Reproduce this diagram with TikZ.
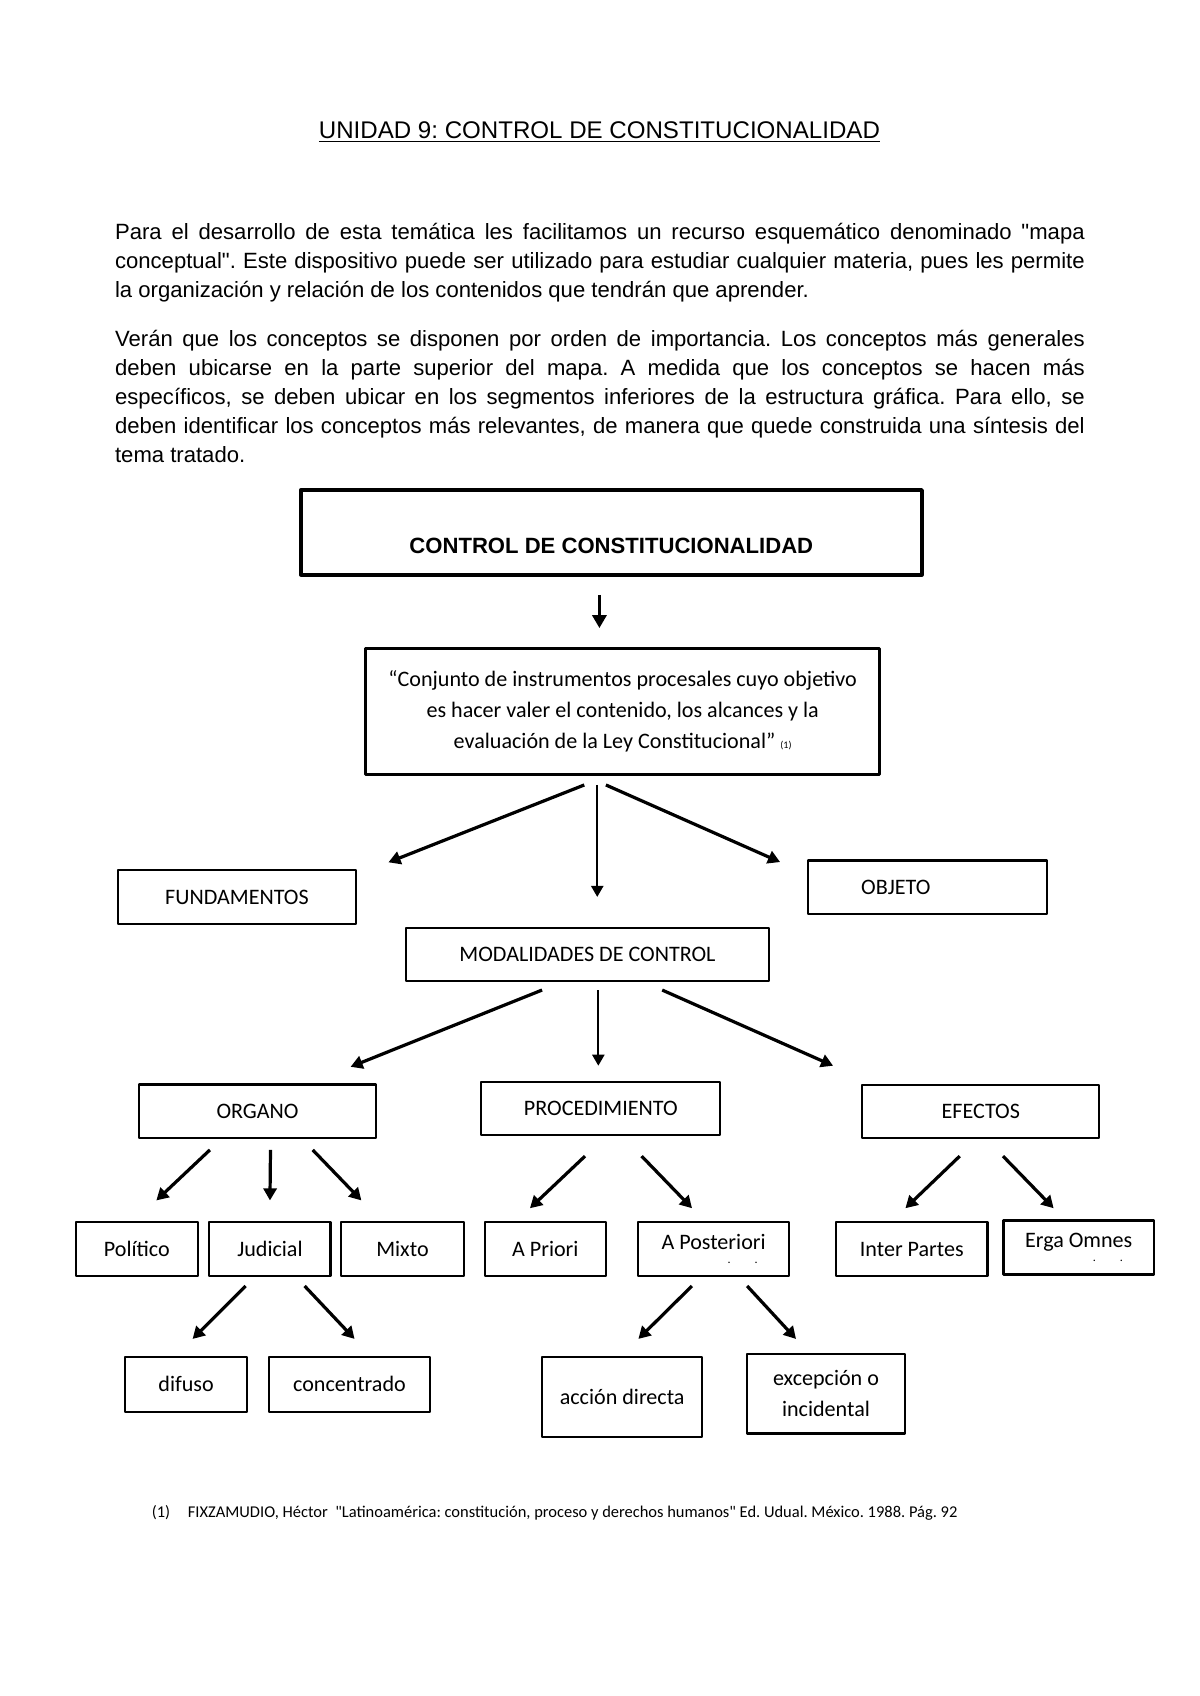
\documentclass[tikz,border=0pt]{standalone}
\usepackage{fontspec}
\setmainfont{Liberation Sans}
\newfontfamily\arial{Liberation Sans}
\newfontfamily\carlito{Carlito}
\usetikzlibrary{arrows.meta, calc, positioning}
\newcommand{\pxu}{0.01894cm}
\hyphenpenalty=10000
\exhyphenpenalty=10000
\frenchspacing
\tikzset{
	concept/.style={draw, line width=1.1pt, inner sep=0pt, align=center, font=\carlito\fontsize{11}{15.6}\selectfont},
	tam/.style 2 args={minimum width=#1*\pxu, minimum height=#2*\pxu},
	flecha/.style={line width=1.6pt, -{Triangle[length=6pt,width=6.5pt]}},
	flechafina/.style={line width=1.1pt, -{Triangle[length=5.5pt,width=6pt]}},
	parrafo/.style={anchor=base west, inner sep=0pt, text width=16.97cm, align=justify, font=\arial\fontsize{11}{14.5}\selectfont},
}

\begin{document}
\begin{tikzpicture}[x=\pxu, y=-\pxu, line join=round]
	\useasboundingbox (0,0) rectangle (1109,1567.5);

	% encabezado
	\node[anchor=base, inner sep=0pt, font=\arial\fontsize{12}{14}\selectfont] (titulo) at (554,128)
		{\underline{UNIDAD 9: CONTROL DE CONSTITUCIONALIDAD}};
	\node[parrafo] (parrafouno) at (106,221)
		{Para el desarrollo de esta temática les facilitamos un recurso esquemático denominado "mapa\linebreak
		conceptual". Este dispositivo puede ser utilizado para estudiar cualquier materia, pues les permite\linebreak
		la organización y relación de los contenidos que tendrán que aprender.};
	\node[parrafo] (parrafodos) at (106,320)
		{Verán que los conceptos se disponen por orden de importancia. Los conceptos más generales\linebreak
		deben ubicarse en la parte superior del mapa. A medida que los conceptos se hacen más\linebreak
		específicos, se deben ubicar en los segmentos inferiores de la estructura gráfica. Para ello, se\linebreak
		deben identificar los conceptos más relevantes, de manera que quede construida una síntesis del\linebreak
		tema tratado.};

	% mapa conceptual
	\node[draw, line width=2pt, tam={574}{78}, font=\arial\bfseries\fontsize{11}{13}\selectfont,
		text height=0.758cm, text depth=0pt] (control) at (565,492) {CONTROL DE CONSTITUCIONALIDAD};
	\node[concept, line width=1.6pt, tam={475}{117}] (concepto) at (575.5,657.5)
		{“Conjunto de instrumentos procesales cuyo objetivo\\
		es hacer valer el contenido, los alcances y la\\
		evaluación de la Ley Constitucional” {\fontsize{5}{5}\selectfont(1)}};

	\node[concept, tam={220}{50}] (fundamentos) at (219,829) {FUNDAMENTOS};
	\node[concept, tam={221}{49.5}] (objeto) at (857,820) {OBJETO\hspace*{1.1cm}};
	\node[concept, tam={336}{49}] (modalidades) at (543,882) {MODALIDADES DE CONTROL};

	\node[concept, tam={219.5}{49.5}] (organo) at (238,1027) {ORGANO};
	\node[concept, tam={221}{49.5}] (procedimiento) at (555.3,1024.5) {PROCEDIMIENTO};
	\node[concept, tam={219}{49}] (efectos) at (906.5,1027.5) {EFECTOS};

	\node[concept, tam={113}{50}] (politico) at (126.5,1154.5) {Político};
	\node[concept, tam={112}{50}] (judicial) at (249.5,1154.5) {Judicial};
	\node[concept, tam={113}{50}] (mixto) at (372,1154.5) {Mixto};
	\node[concept, tam={112}{50}] (apriori) at (504,1154.5) {A Priori};
	\node[concept, tam={139}{50}] (aposteriori) at (659.5,1154.5)
		{A Posteriori\\[-8.6pt]{\fontsize{6}{6}\selectfont\hspace*{1.02cm}.\hspace{0.42cm}.}};
	\node[concept, tam={140}{50}] (interpartes) at (842.7,1154.5) {Inter Partes};
	\node[concept, tam={139}{50}] (ergaomnes) at (997,1153)
		{Erga Omnes\\[-8.6pt]{\fontsize{6}{6}\selectfont\hspace*{1.02cm}.\hspace{0.42cm}.}};

	\node[concept, tam={113}{51}] (difuso) at (172,1279.5) {difuso};
	\node[concept, tam={149}{51}] (concentrado) at (323,1279.5) {concentrado};
	\node[concept, tam={147.6}{74}] (accion) at (575,1291) {acción directa};
	\node[concept, tam={146}{73.6}] (excepcion) at (763.4,1288) {excepción o\\ incidental};

	% flechas
	\draw[line width=1.8pt, -{Triangle[length=6.5pt,width=7pt]}] ($(control.south)+(-11,17)$) -- ($(concepto.north)+(-21.5,-17)$);
	\draw[flecha] ($(concepto.south)+(-35.5,8)$) -- ($(fundamentos.north east)+(29,-6)$);
	\draw[flechafina] ($(concepto.south)+(-23.5,8)$) -- ($(modalidades.north)+(9,-27.5)$);
	\draw[flecha] ($(concepto.south)+(-15.5,8)$) -- ($(objeto.north west)+(-24.5,2.5)$);

	\draw[flecha] ($(modalidades.south)+(-42,7.5)$) -- ($(organo.north east)+(-24.75,-15.25)$);
	\draw[flechafina] ($(modalidades.south)+(10,7.5)$) -- ($(procedimiento.north)+(-2.3,-13.75)$);
	\draw[flecha] ($(modalidades.south)+(69,7.5)$) -- ($(efectos.north west)+(-26,-17)$);

	\draw[flecha] ($(organo.south)+(-44,10)$) -- ($(politico.north)+(18,-19)$);
	\draw[flecha] ($(organo.south)+(12,10)$) -- ($(judicial.north)+(0,-19)$);
	\draw[flecha] ($(organo.south)+(51,10)$) -- ($(mixto.north)+(-38,-19)$);

	\draw[flecha] ($(procedimiento.south)+(-14.6,18.25)$) -- ($(apriori.north)+(-14.2,-11.8)$);
	\draw[flecha] ($(procedimiento.south)+(37.7,18.25)$) -- ($(aposteriori.north)+(-19.9,-11.8)$);

	\draw[flecha] ($(efectos.south)+(-19.5,15.5)$) -- ($(interpartes.north)+(-5.9,-11.8)$);
	\draw[flecha] ($(efectos.south)+(20.5,15.5)$) -- ($(ergaomnes.north)+(-23.2,-10.3)$);

	\draw[flecha] ($(judicial.south)+(-22.5,8)$) -- ($(difuso.north)+(6,-15.5)$);
	\draw[flecha] ($(judicial.south)+(32,8)$) -- ($(concentrado.north)+(4.7,-15.5)$);

	\draw[flecha] ($(aposteriori.south)+(-20,8)$) -- ($(accion.north)+(15,-15.5)$);
	\draw[flecha] ($(aposteriori.south)+(31,8)$) -- ($(excepcion.north)+(-27.7,-12.7)$);

	% nota al pie
	\node[anchor=west, inner sep=0pt, font=\carlito\fontsize{8.2}{10}\selectfont] (nota) at (140,1398)
		{(1)\hspace{0.31cm}FIXZAMUDIO, Héctor\ \ "Latinoamérica: constitución, proceso y derechos humanos" Ed. Udual. México. 1988. Pág. 92};
\end{tikzpicture}
\end{document}
